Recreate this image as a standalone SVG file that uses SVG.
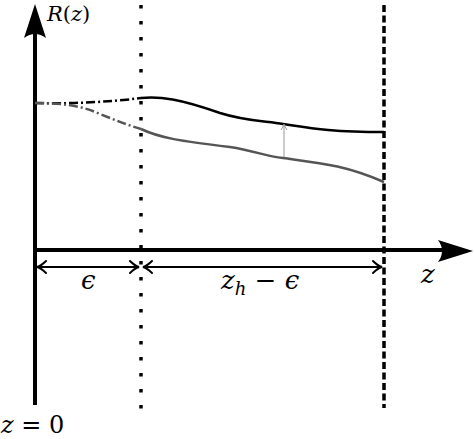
<svg xmlns="http://www.w3.org/2000/svg" width="474" height="439" viewBox="0 0 474 439">
<style>
.m{font-family:'DejaVu Serif','Liberation Serif',serif;font-style:italic;fill:#000}
.u{font-style:normal}
.ah{fill:none;stroke:#000;stroke-width:2;stroke-linecap:round}
</style>
<rect width="474" height="439" fill="#fff"/>
<g id="axes">
  <line x1="35" y1="405" x2="35" y2="30" stroke="#000" stroke-width="4"/>
  <path d="M35,4 L46,38 Q35,30 24,38 Z" fill="#000"/>
  <line x1="33" y1="250" x2="445" y2="250" stroke="#000" stroke-width="4"/>
  <path d="M473,251 L438,240 Q446,251 438,262 Z" fill="#000"/>
</g>
<g id="boundaries">
  <line x1="141" y1="5" x2="141" y2="410" stroke="#000" stroke-width="3.5" stroke-dasharray="3.5 12.5"/>
  <line x1="384" y1="5" x2="384" y2="408" stroke="#000" stroke-width="3.5" stroke-dasharray="7 3.5"/>
</g>
<g id="curves" fill="none">
  <path d="M35,103 C70,104 110,102 141,98" stroke="#000" stroke-width="2.5" stroke-dasharray="9 3 2 3"/>
  <path d="M35,103 C60,103 80,105 100,114 C115,120 130,126 141,129" stroke="#555" stroke-width="2.5" stroke-dasharray="9 3 2 3"/>
  <path d="M141,98 C160,96 180,99 220,113 C245,121 265,121 283,124 C310,128 330,132 384,132" stroke="#000" stroke-width="2.5"/>
  <path d="M141,129 C160,138 180,141 230,147 C255,151 265,156 283,158 C320,163 345,165 384,182" stroke="#555" stroke-width="2.5"/>
  <line x1="284" y1="157" x2="284" y2="126" stroke="#999" stroke-width="1"/>
  <path d="M281,130 Q283,127 284,124 Q285,127 287,130" stroke="#999" stroke-width="1"/>
</g>
<g id="dims">
  <line x1="37" y1="267" x2="139" y2="267" stroke="#000" stroke-width="2"/>
  <path class="ah" d="M46,261 Q41,266 37,267 Q41,268 46,273"/>
  <path class="ah" d="M130,261 Q135,266 139,267 Q135,268 130,273"/>
  <line x1="143" y1="267" x2="382" y2="267" stroke="#000" stroke-width="2"/>
  <path class="ah" d="M152,261 Q147,266 143,267 Q147,268 152,273"/>
  <path class="ah" d="M373,261 Q378,266 382,267 Q378,268 373,273"/>
</g>
<g id="labels">
  <text class="m" x="47" y="21" font-size="21" font-family="DejaVu Serif">R<tspan class="u">(</tspan>z<tspan class="u">)</tspan></text>
  <text class="m" x="421" y="283" font-size="26">z</text>
  <text class="m" x="81" y="289" font-size="26">ϵ</text>
  <text class="m" x="221" y="289" font-size="26">z<tspan font-size="18" dy="6">h</tspan><tspan class="u" dy="-6"> − </tspan>ϵ</text>
  <text class="m" x="1" y="433" font-size="24">z<tspan class="u"> = 0</tspan></text>
</g>
</svg>
